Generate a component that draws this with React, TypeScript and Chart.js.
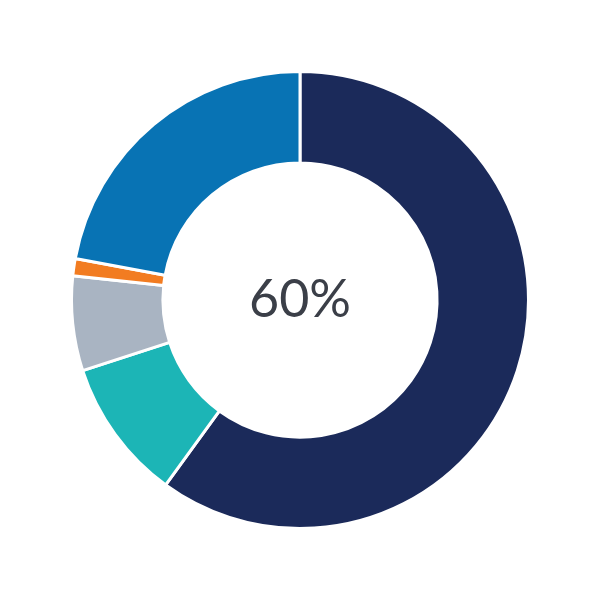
import React, { useEffect, useRef } from "react";
import { Chart, registerables } from "chart.js";

Chart.register(...registerables);

const categories = ["Navy", "Teal", "Gray", "Orange", "Blue"];
const values = [60, 10, 6.7, 1.2, 22.1];
const colors = ["#1b2a5a", "#1cb5b6", "#a9b4c2", "#f27c21", "#0873b4"];
const centerLabel = "60%";

const centerText = {
  id: "centerText",
  afterDraw(chart: any) {
    const { ctx, chartArea } = chart;
    const cx = (chartArea.left + chartArea.right) / 2;
    const cy = (chartArea.top + chartArea.bottom) / 2;
    ctx.save();
    ctx.font = "400 52px Lato";
    ctx.fillStyle = "#3b3f48";
    ctx.textAlign = "center";
    ctx.textBaseline = "middle";
    ctx.fillText(centerLabel, cx, cy);
    ctx.restore();
  },
};

export default function App() {
  const ref = useRef<HTMLCanvasElement | null>(null);
  useEffect(() => {
    document.body.style.margin = "0";
    const chart = new Chart(ref.current!, {
      type: "doughnut",
      data: {
        labels: categories,
        datasets: [
          {
            data: values,
            backgroundColor: colors,
            borderColor: "#ffffff",
            borderWidth: 3,
          },
        ],
      },
      options: {
        animation: false,
        responsive: false,
        cutout: "60%",
        layout: { padding: 70 },
        plugins: { legend: { display: false }, tooltip: { enabled: false } },
      },
      plugins: [centerText],
    });
    return () => chart.destroy();
  }, []);
  return (
    <div style={{ width: 600, height: 600, background: "#fff" }}>
      <canvas ref={ref} width={600} height={600} style={{ width: 600, height: 600 }} />
    </div>
  );
}
